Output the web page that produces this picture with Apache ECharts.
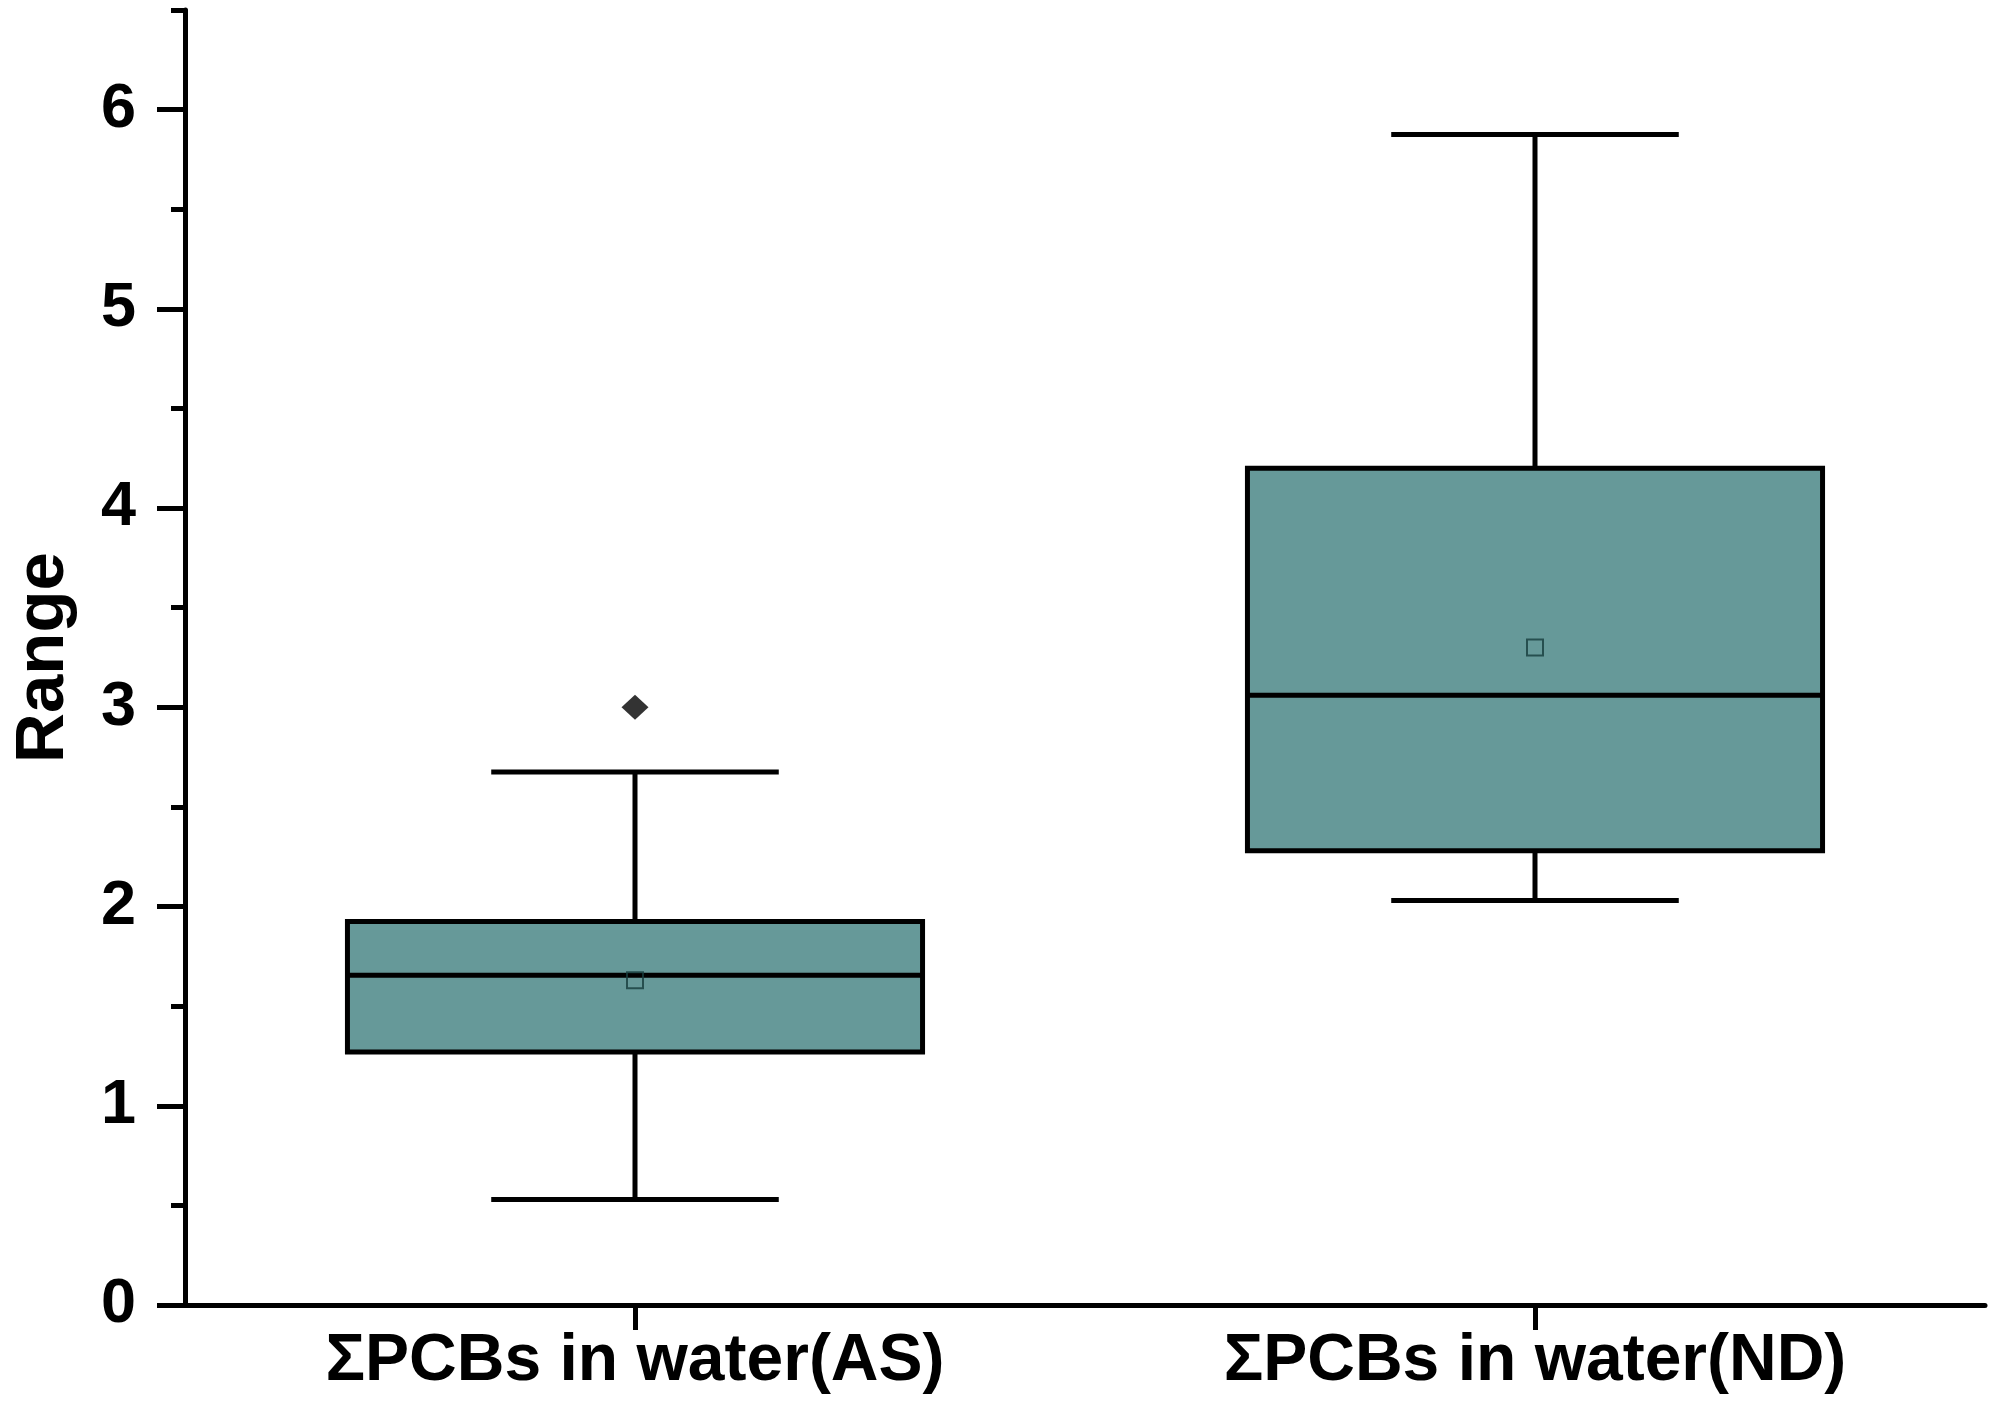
<!DOCTYPE html>
<html>
<head>
<meta charset="utf-8">
<script src="https://cdn.jsdelivr.net/npm/echarts@6/dist/echarts.min.js"></script>
<style>html,body{margin:0;padding:0;background:#fff}#c{width:2000px;height:1413px}</style>
</head>
<body>
<div id="c"></div>
<script>
const categories = ['ΣPCBs in water(AS)', 'ΣPCBs in water(ND)'];
// [lowerWhisker, Q1, median, Q3, upperWhisker]
const boxStats = [
  [0.53, 1.27, 1.655, 1.925, 2.675],
  [2.03, 2.28, 3.06, 4.20, 5.875]
];
const means = [1.63, 3.30];
const outliers = [[0, 3.0]];
const yMajorTicks = [0, 1, 2, 3, 4, 5, 6];

const FONT = "'Liberation Sans', Arial, sans-serif";
const BOX_FILL = '#669999';

const chart = echarts.init(document.getElementById('c'), null, {renderer: 'canvas'});

const boxData = boxStats.map((s, i) => [i].concat(s));

chart.setOption({
  backgroundColor: '#ffffff',
  animation: false,
  grid: {left: 185, right: 15, top: 10, bottom: 108, containLabel: false},
  xAxis: {
    type: 'category',
    data: categories,
    boundaryGap: true,
    axisLine: {show: true, onZero: false, lineStyle: {color: '#000', width: 5}},
    axisTick: {show: true, alignWithLabel: true, length: 25, lineStyle: {color: '#000', width: 5}},
    axisLabel: {show: true, margin: 24, color: '#000', fontFamily: FONT, fontWeight: 'bold', fontSize: 66},
    splitLine: {show: false}
  },
  yAxis: [
    {
      type: 'value',
      min: 0, max: 6.5, interval: 0.5,
      name: 'Range',
      nameLocation: 'middle',
      nameGap: 107,
      nameTextStyle: {color: '#000', fontFamily: FONT, fontWeight: 'bold', fontSize: 69},
      axisLine: {show: true, lineStyle: {color: '#000', width: 5}},
      axisTick: {show: true, length: 14, lineStyle: {color: '#000', width: 5}},
      axisLabel: {
        show: true, margin: 49, color: '#000', fontFamily: FONT, fontWeight: 'bold', fontSize: 63,
        formatter: v => (Math.abs(v - Math.round(v)) < 1e-9 && v <= 6 ? String(Math.round(v)) : '')
      },
      splitLine: {show: false}
    },
    {
      type: 'value',
      min: 0, max: 6.5, interval: 0.5,
      position: 'left',
      axisLine: {show: false},
      axisTick: {show: true, length: 28, customValues: yMajorTicks, lineStyle: {color: '#000', width: 5}},
      axisLabel: {show: false},
      splitLine: {show: false}
    }
  ],
  series: [
    {
      type: 'custom',
      xAxisIndex: 0, yAxisIndex: 0,
      data: boxData,
      encode: {x: 0, y: [1, 2, 3, 4, 5]},
      renderItem: function (params, api) {
        const xi = api.value(0);
        const lo = api.coord([xi, api.value(1)]);
        const q1 = api.coord([xi, api.value(2)]);
        const md = api.coord([xi, api.value(3)]);
        const q3 = api.coord([xi, api.value(4)]);
        const hi = api.coord([xi, api.value(5)]);
        const band = api.size([1, 0])[0];
        const bw = band * 0.639;
        const cw = bw * 0.5;
        const cx = lo[0];
        const lineStyle = {stroke: '#000', lineWidth: 5};
        return {
          type: 'group',
          children: [
            {type: 'line', shape: {x1: cx, y1: hi[1], x2: cx, y2: q3[1]}, style: lineStyle},
            {type: 'line', shape: {x1: cx, y1: q1[1], x2: cx, y2: lo[1]}, style: lineStyle},
            {type: 'line', shape: {x1: cx - cw / 2, y1: hi[1], x2: cx + cw / 2, y2: hi[1]}, style: lineStyle},
            {type: 'line', shape: {x1: cx - cw / 2, y1: lo[1], x2: cx + cw / 2, y2: lo[1]}, style: lineStyle},
            {type: 'rect', shape: {x: cx - bw / 2, y: q3[1], width: bw, height: q1[1] - q3[1]},
             style: {fill: BOX_FILL, stroke: '#000', lineWidth: 5}},
            {type: 'line', shape: {x1: cx - bw / 2, y1: md[1], x2: cx + bw / 2, y2: md[1]}, style: lineStyle}
          ]
        };
      },
      z: 2
    },
    {
      type: 'scatter',
      xAxisIndex: 0, yAxisIndex: 0,
      data: means.map((m, i) => [i, m]),
      symbol: 'rect',
      symbolSize: 16,
      itemStyle: {color: 'rgba(0,0,0,0)', borderColor: '#173c3c', borderWidth: 2},
      z: 5
    },
    {
      type: 'scatter',
      xAxisIndex: 0, yAxisIndex: 0,
      data: outliers,
      symbol: 'diamond',
      symbolSize: [27, 25],
      itemStyle: {color: '#000'},
      z: 5
    }
  ]
});
</script>
</body>
</html>
